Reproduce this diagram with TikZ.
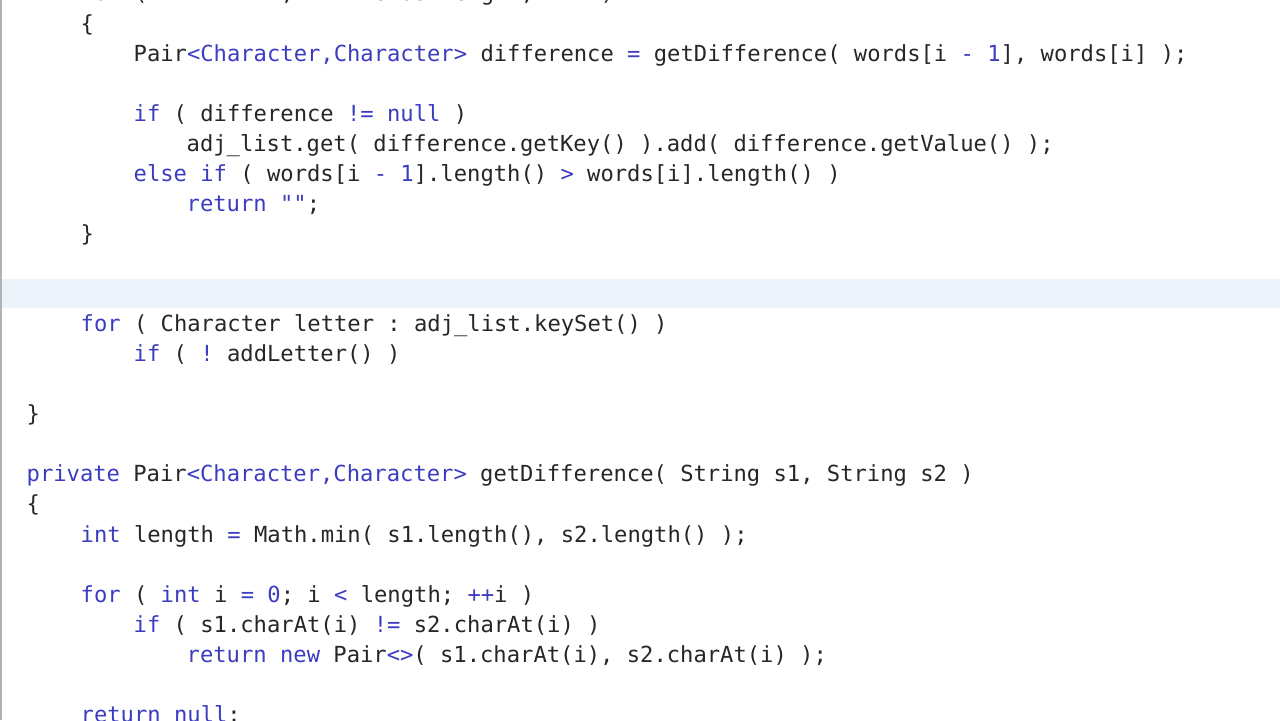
\documentclass[tikz,border=0pt]{standalone}
\usepackage{fontspec}
\setmonofont{DejaVu Sans Mono}
\definecolor{kwblue}{HTML}{3C3CC0}
\definecolor{codeink}{HTML}{262626}
\definecolor{hlband}{HTML}{EDF3FB}
\newcommand{\kw}[1]{\textcolor{kwblue}{#1}}
\begin{document}
\begin{tikzpicture}[x=0.01cm, y=-0.01cm]
\tikzstyle{every node}=[anchor=base west, inner sep=0pt, text=codeink, font=\ttfamily\fontsize{6.3}{7.5}\selectfont]
\useasboundingbox (0,0) rectangle (1280,720);
\clip (0,0) rectangle (1280,720);
\fill[hlband] (0,279) rectangle (1280,308);
\draw[gray!60, line width=0.6pt] (0.5,0) -- (0.5,720);
%
\node(l00) at (80,0) {\kw{for} ( \kw{int} i \kw{=} \kw{1}; i \kw{<} words.length; \kw{++}i )};
\node(l01) at (80,31) {\{};
\node(l02) at (133,61) {Pair\kw{<Character,Character>} difference \kw{=} getDifference( words[i \kw{-} \kw{1}], words[i] );};
\node(l03) at (133,121) {\kw{if} ( difference \kw{!=} \kw{null} )};
\node(l04) at (186,151) {adj\_list.get( difference.getKey() ).add( difference.getValue() );};
\node(l05) at (133,181) {\kw{else} \kw{if} ( words[i \kw{-} \kw{1}].length() \kw{>} words[i].length() )};
\node(l06) at (186,211) {\kw{return} \kw{""};};
\node(l07) at (80,241) {\}};
%
\node(l08) at (80,331) {\kw{for} ( Character letter : adj\_list.keySet() )};
\node(l09) at (133,361) {\kw{if} ( \kw{!} addLetter() )};
\node(l10) at (26,421) {\}};
%
\node(l11) at (26,481) {\kw{private} Pair\kw{<Character,Character>} getDifference( String s1, String s2 )};
\node(l12) at (26,511) {\{};
\node(l13) at (80,542) {\kw{int} length \kw{=} Math.min( s1.length(), s2.length() );};
\node(l14) at (80,602) {\kw{for} ( \kw{int} i \kw{=} \kw{0}; i \kw{<} length; \kw{++}i )};
\node(l15) at (133,632) {\kw{if} ( s1.charAt(i) \kw{!=} s2.charAt(i) )};
\node(l16) at (186,662) {\kw{return} \kw{new} Pair\kw{<>}( s1.charAt(i), s2.charAt(i) );};
\node(l17) at (80,722) {\kw{return} \kw{null};};
\end{tikzpicture}
\end{document}
